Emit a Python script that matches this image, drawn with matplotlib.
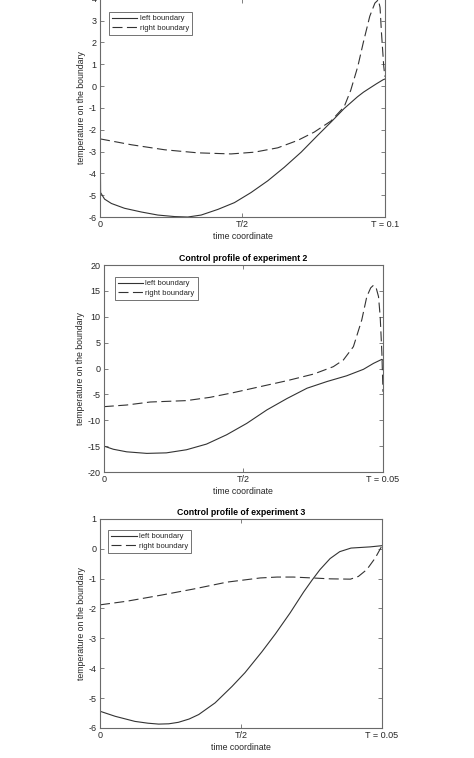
import matplotlib
matplotlib.use('Agg')
import matplotlib.pyplot as plt

plt.rcParams['font.family'] = ['Liberation Sans', 'DejaVu Sans']
plt.rcParams['axes.unicode_minus'] = False

# Experiment 1 (T = 0.1)
x1_left = [0, 0.0002, 0.0016, 0.004, 0.0086, 0.0145, 0.0203, 0.0262, 0.0308, 0.0355,
           0.0414, 0.0472, 0.053, 0.0589, 0.0647, 0.0706, 0.0764, 0.0811, 0.0857,
           0.0904, 0.0925, 0.0945, 0.097, 0.0994, 0.100]
y1_left = [-0.7, -4.88, -5.18, -5.38, -5.60, -5.77, -5.91, -5.98, -6.0, -5.91,
           -5.65, -5.34, -4.88, -4.34, -3.72, -3.03, -2.26, -1.65, -1.03,
           -0.49, -0.28, -0.11, 0.1, 0.29, 0.32]
x1_right = [0, 0.011, 0.0227, 0.0343, 0.046, 0.0542, 0.0624, 0.0694, 0.0752, 0.0811,
            0.0857, 0.088, 0.0905, 0.0924, 0.0947, 0.0965, 0.0977, 0.0983, 0.0988,
            0.0996, 0.100]
y1_right = [-2.42, -2.69, -2.92, -3.06, -3.11, -3.03, -2.83, -2.49, -2.11, -1.60,
            -0.95, -0.2, 0.9, 1.98, 3.2, 3.8, 3.95, 3.6, 2.44,
            0.9, 0.43]

# Experiment 2 (T = 0.05)
x2_left = [0, 0.00005, 0.0017, 0.0041, 0.0077, 0.0112, 0.0148, 0.0184, 0.022, 0.0256,
           0.0292, 0.0328, 0.0364, 0.04, 0.0435, 0.0465, 0.0483, 0.0498, 0.05]
y2_left = [-3.6, -15.0, -15.6, -16.1, -16.4, -16.3, -15.7, -14.6, -12.8, -10.6,
           -8.0, -5.8, -3.8, -2.5, -1.4, -0.15, 1.0, 1.78, 1.6]
x2_right = [0, 0.0041, 0.0083, 0.0148, 0.019, 0.0232, 0.028, 0.0328, 0.0376, 0.0411,
            0.0429, 0.0447, 0.0462, 0.0471, 0.0478, 0.0483, 0.0488, 0.0492, 0.0495,
            0.0498, 0.05]
y2_right = [-7.37, -7.05, -6.47, -6.2, -5.57, -4.66, -3.5, -2.35, -1.06, 0.36,
            1.65, 4.23, 9.4, 13.9, 15.6, 16.1, 15.5, 13.9, 10.0,
            3.0, -4.5]

# Experiment 3 (T = 0.05)
x3_left = [0, 0.0027, 0.0062, 0.0085, 0.0104, 0.0122, 0.0139, 0.0158, 0.0175, 0.0204,
           0.0234, 0.0257, 0.0287, 0.0311, 0.0337, 0.0361, 0.0376, 0.0390, 0.0408,
           0.0425, 0.0445, 0.0479, 0.0500]
y3_left = [-5.44, -5.61, -5.78, -5.84, -5.87, -5.86, -5.81, -5.70, -5.55, -5.16,
           -4.61, -4.15, -3.45, -2.85, -2.15, -1.45, -1.05, -0.70, -0.33,
           -0.10, 0.02, 0.06, 0.10]
x3_right = [0, 0.0047, 0.0107, 0.0166, 0.0225, 0.0284, 0.0314, 0.0343, 0.0376, 0.0408,
            0.0444, 0.0458, 0.0473, 0.0488, 0.0500]
y3_right = [-1.88, -1.76, -1.56, -1.35, -1.12, -0.98, -0.95, -0.95, -0.98, -1.01,
            -1.02, -0.93, -0.70, -0.31, 0.10]

panels = [
    dict(xl=x1_left, yl=y1_left, xr=x1_right, yr=y1_right, T=0.1, tlabel='T = 0.1',
         ylim=(-6, 4), yticks=range(-6, 5), title=None,
         rect=[0.211, 0.7137, 0.601, 0.288], leg=(0.032, 0.94)),
    dict(xl=x2_left, yl=y2_left, xr=x2_right, yr=y2_right, T=0.05, tlabel='T = 0.05',
         ylim=(-20, 20), yticks=range(-20, 21, 5), title='Control profile of experiment 2',
         rect=[0.219, 0.3773, 0.589, 0.273], leg=(0.039, 0.943)),
    dict(xl=x3_left, yl=y3_left, xr=x3_right, yr=y3_right, T=0.05, tlabel='T = 0.05',
         ylim=(-6, 1), yticks=range(-6, 2), title='Control profile of experiment 3',
         rect=[0.211, 0.0396, 0.595, 0.276], leg=(0.0295, 0.947)),
]

line_col = '#333333'
ax_col = '#6a6a6a'
txt_col = '#262626'

fig = plt.figure(figsize=(4.74, 7.58), dpi=100)

for p in panels:
    ax = fig.add_axes(p['rect'])
    ax.plot(p['xl'], p['yl'], color=line_col, lw=0.8, label='left boundary')
    ax.plot(p['xr'], p['yr'], color=line_col, lw=0.8, linestyle=(0, (9, 4)),
            label='right boundary')
    ax.set_xlim(0, p['T'])
    ax.set_ylim(*p['ylim'])
    ax.set_xticks([0, p['T'] / 2, p['T']])
    ax.set_xticklabels(['0', 'T/2', p['tlabel']])
    ax.set_yticks(list(p['yticks']))
    ax.tick_params(direction='in', top=True, right=True, length=3, width=0.6,
                   labelsize=6.5, pad=2.5, colors=ax_col, labelcolor=txt_col)
    for s in ax.spines.values():
        s.set_color(ax_col)
        s.set_linewidth(0.8)
    ax.set_xlabel('time coordinate', fontsize=6.3, color=txt_col, labelpad=1.5)
    ax.set_ylabel('temperature on the boundary', fontsize=6.3, color=txt_col, labelpad=2)
    if p['title']:
        ax.set_title(p['title'], fontsize=6.3, fontweight='bold', color='black', pad=3)
    leg = ax.legend(loc='upper left', bbox_to_anchor=p['leg'], borderaxespad=0,
                    fontsize=5.5, frameon=True, fancybox=False, handlelength=3.3,
                    handletextpad=0.3, borderpad=0.4, labelspacing=0.3)
    leg.get_frame().set_edgecolor('#333333')
    leg.get_frame().set_linewidth(0.6)
    for t in leg.get_texts():
        t.set_color(txt_col)

fig.savefig('out.png', dpi=100)
